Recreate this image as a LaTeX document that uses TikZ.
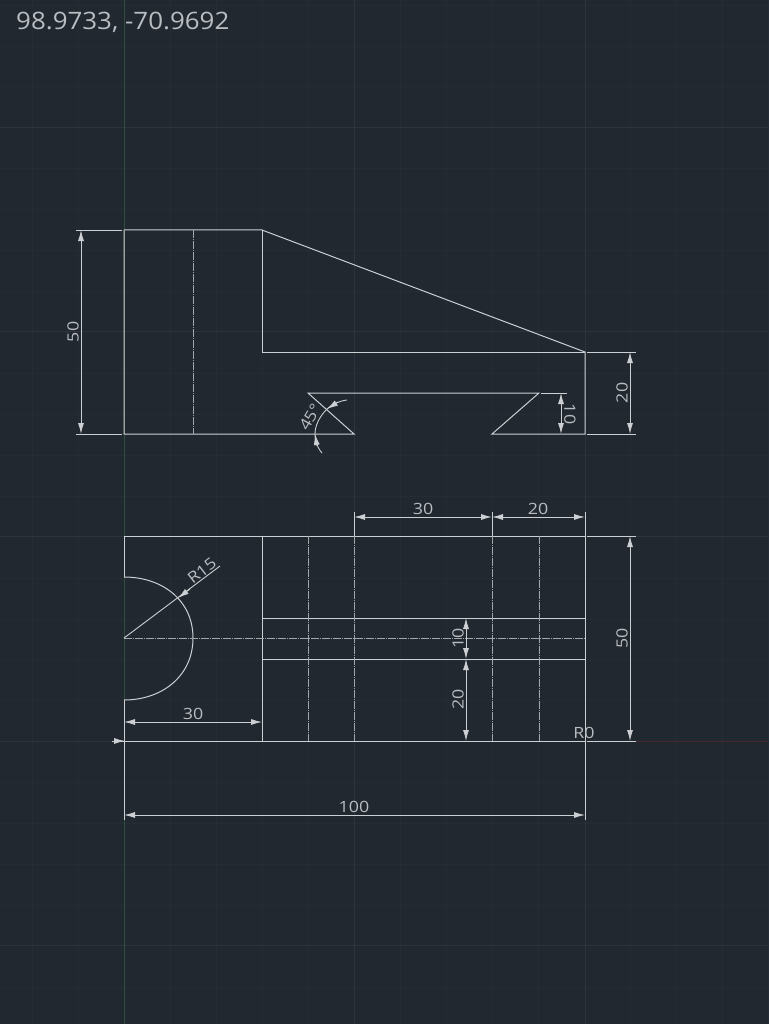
\documentclass[tikz,border=0pt]{standalone}
\usepackage{fontspec}
\setmainfont{Open Sans}
\usetikzlibrary{arrows.meta}
\definecolor{cadback}{HTML}{212830}
\definecolor{cadminor}{HTML}{252C35}
\definecolor{cadmajor}{HTML}{2D343F}
\definecolor{cadline}{HTML}{CDD0D3}
\definecolor{cadtext}{HTML}{B9BDC1}
\definecolor{cadgreen}{HTML}{2B4F3A}
\definecolor{cadred}{HTML}{46272F}

\begin{document}
\begin{tikzpicture}[x=1pt,y=-1pt,
    >={Latex[length=11pt,width=6pt]},
    minorgrid/.style ={cadminor, line width=0.8pt},
    majorgrid/.style ={cadmajor, line width=0.8pt},
    outline/.style ={cadline, line width=1pt},
    centerline/.style ={cadline!75!cadback, line width=0.5pt, dash pattern=on 8pt off 1pt on 1pt off 1pt},
    dimension/.style ={cadline, line width=0.9pt, <->},
    leader/.style ={cadline, line width=0.9pt},
    dimtext/.style ={text=cadtext, font=\fontsize{15.5}{16}\selectfont, xscale=1.15, inner sep=0pt}]
   \fill[cadback] (0,0) rectangle (768,1024);
   \useasboundingbox (0,0) rectangle (768,1024);

   % grid
   \foreach \gx in {-14,32,78,170,216,262,308,400,446,492,538,630,676,722,768}
     \draw[minorgrid] (\gx,0) -- (\gx,1024);
   \foreach \gy in {5,46,86,168,209,250,291,373,414,455,496,578,619,660,700,782,823,864,905,987}
     \draw[minorgrid] (0,\gy) -- (768,\gy);
   \foreach \gx in {354,585}
     \draw[majorgrid] (\gx,0) -- (\gx,1024);
   \foreach \gy in {127,331,536,741,945}
     \draw[majorgrid] (0,\gy) -- (768,\gy);
   \draw[cadgreen, line width=1pt] (124,0) -- (124,1024);
   \draw[cadred, line width=0.8pt] (636,741) -- (768,741);

   % front view
   \coordinate (A) at (124,230);
   \coordinate (B) at (262,230);
   \coordinate (C) at (585,352);
   \coordinate (D) at (262,352);
   \coordinate (E) at (585,434);
   \coordinate (F) at (492,434);
   \coordinate (G) at (539,393);
   \coordinate (H) at (308,393);
   \coordinate (I) at (354,434);
   \coordinate (J) at (124,434);

   \draw[outline] (A) -- (B) -- (C) -- (E) -- (F) -- (G) -- (H) -- (I) -- (J) -- (A);
   \draw[outline] (B) -- (D) -- (C);
   \draw[centerline] (193,230) -- (193,434);

   % front view dimensions
   \coordinate (A1) at (76,230);
   \coordinate (J1) at (76,434);
   \draw[leader] (A1) -- (122,230);
   \draw[leader] (J1) -- (122,434);
   \draw[dimension] (81,230) -- (81,434);
   \node[rotate=90, dimtext] (frontheight) at (73,332) {50};

   \coordinate (C1) at (636,352);
   \coordinate (E1) at (636,434);
   \draw[leader] (587,352) -- (C1);
   \draw[leader] (587,434) -- (E1);
   \draw[dimension] (630,352) -- (630,434);
   \node[rotate=90, dimtext] (rightheight) at (622,393) {20};

   \coordinate (G1) at (567,393);
   \draw[leader] (541,393) -- (G1);
   \draw[dimension] (561,393) -- (561,434);
   \node[rotate=-90, dimtext] (slotdepth) at (570,414) {10};

   % angle
   \coordinate (P) at (347,400);
   \coordinate (Q) at (327,409);
   \coordinate (R) at (315,434);
   \coordinate (S) at (322,453);
   \draw[leader] (P) .. controls (339,401) and (333,404) .. (Q);
   \draw[leader] (Q) .. controls (320,416) and (315,425) .. (R);
   \draw[leader] (R) .. controls (315,441) and (317,447) .. (S);
   \draw[leader, ->] (338,402) -- (Q);
   \draw[leader, ->] (317,446) -- (R);
   \node[rotate=60, dimtext] (slotangle) at (310,417) {45°};

   % top view
   \coordinate (K) at (124,536);
   \coordinate (L) at (585,536);
   \coordinate (M) at (585,741);
   \coordinate (N) at (124,741);
   \coordinate (K1) at (124,577);
   \coordinate (N1) at (124,700);
   \coordinate (O) at (124,638);
   \coordinate (T) at (193,638);

   \draw[outline] (K1) -- (K) -- (L) -- (M) -- (N) -- (N1);
   \draw[outline] (K1) .. controls (162,577) and (193,600) .. (T);
   \draw[outline] (T) .. controls (193,676) and (162,700) .. (N1);
   \draw[outline] (262,536) -- (262,741);
   \draw[outline] (262,618) -- (585,618);
   \draw[outline] (262,659) -- (585,659);
   \draw[centerline] (O) -- (585,638);
   \foreach \cx in {308,354,492,539}
     \draw[centerline] (\cx,536) -- (\cx,741);

   % top view dimensions
   \coordinate (U) at (220,566);
   \coordinate (V) at (178,598);
   \draw[leader] (O) -- (U);
   \draw[leader, ->] (190,589) -- (V);
   \node[rotate=38, dimtext] (radius) at (202,571) {R15};

   \draw[dimension] (124,722) -- (262,722);
   \node[dimtext] (stepwidth) at (193,714) {30};

   \draw[leader] (N) -- (124,820);
   \draw[leader] (M) -- (585,820);
   \draw[dimension] (124,815) -- (585,815);
   \node[dimtext] (totalwidth) at (354,807) {100};

   \draw[leader] (354,512) -- (354,536);
   \draw[leader] (492,512) -- (492,536);
   \draw[leader] (585,512) -- (L);
   \draw[dimension] (354,517) -- (492,517);
   \draw[dimension] (492,517) -- (585,517);
   \node[dimtext] (slotwidth) at (423,509) {30};
   \node[dimtext] (edgewidth) at (538,509) {20};

   \draw[leader] (587,536) -- (636,536);
   \draw[leader] (587,741) -- (636,741);
   \draw[dimension] (630,536) -- (630,741);
   \node[rotate=90, dimtext] (topheight) at (622,638) {50};

   \draw[dimension] (466,618) -- (466,659);
   \draw[dimension] (466,659) -- (466,741);
   \node[rotate=90, dimtext] (grooveheight) at (458,638) {10};
   \node[rotate=90, dimtext] (groovedepth) at (458,699) {20};

   \node[dimtext] (origin) at (584,733) {R0};

   \coordinate (N2) at (112,741);
   \draw[leader] (N2) -- (N);
   \draw[leader, ->] (N2) -- (125,741);

   \node[text=cadtext, font=\fontsize{24}{26}\selectfont, xscale=1.08, inner sep=0pt, anchor=west] (readout) at (16,22) {98.9733, -70.9692};
 \end{tikzpicture}
\end{document}
